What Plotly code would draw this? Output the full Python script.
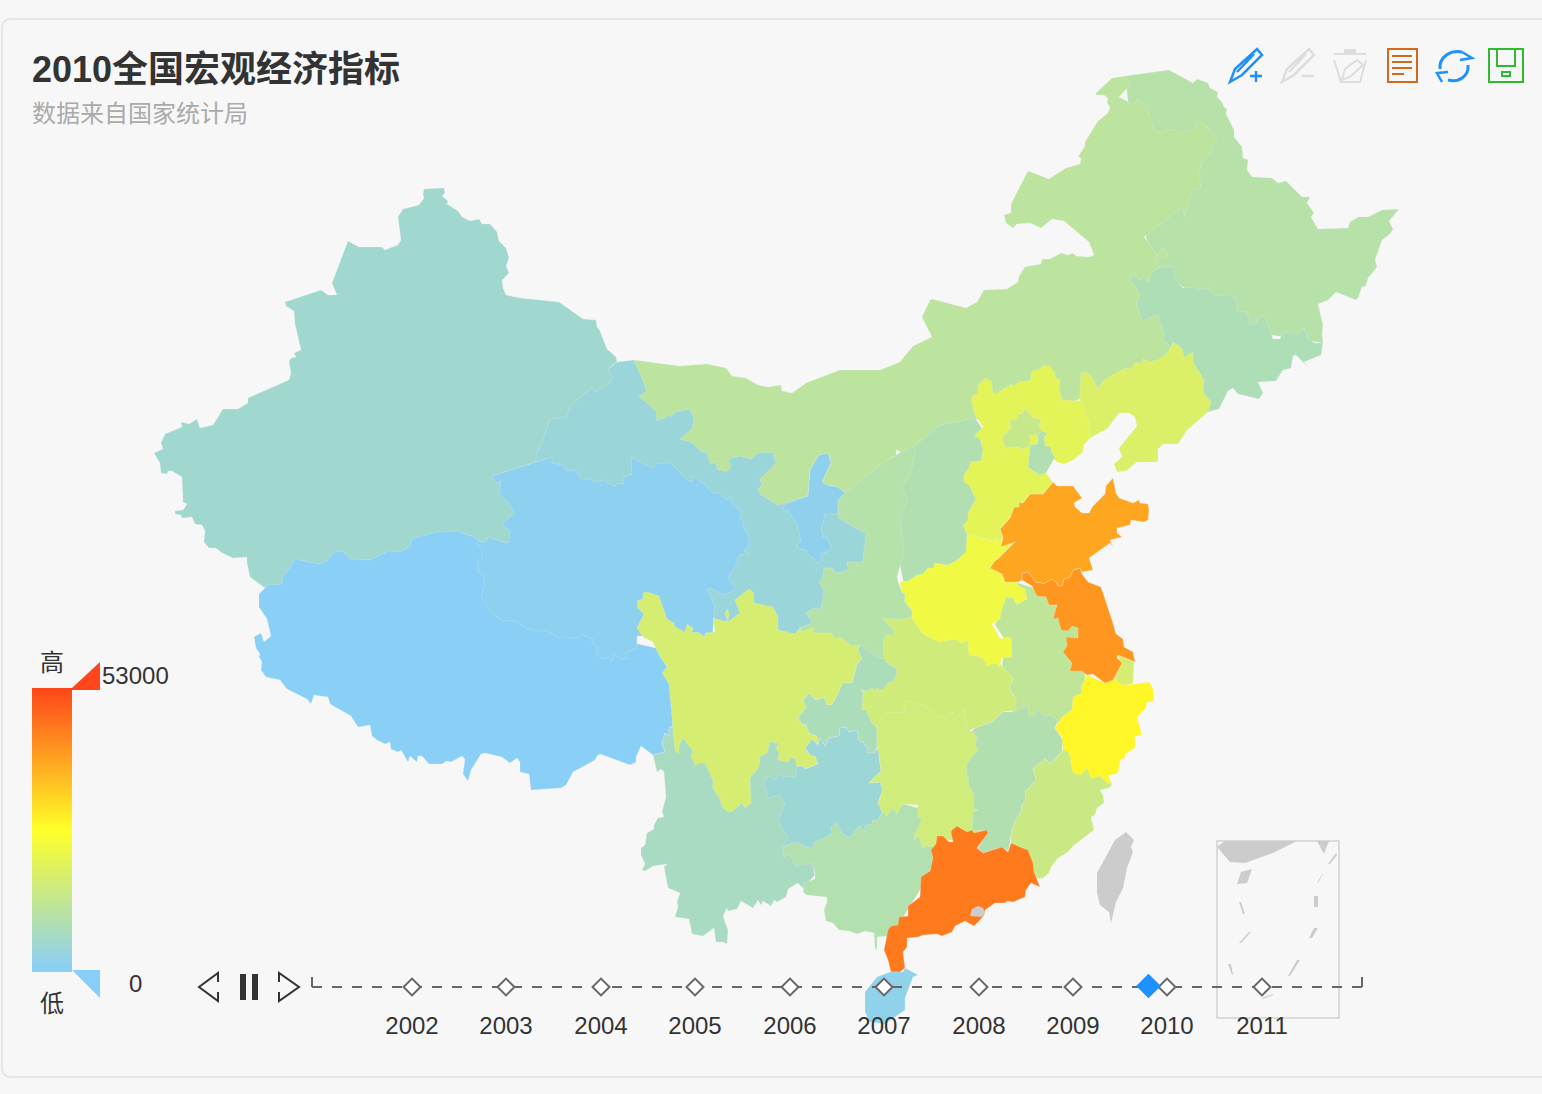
import plotly.graph_objects as go
from plotly.colors import sample_colorscale

# 2010 values per province, 亿元
PROVINCES = ["西藏", "甘肃", "青海", "新疆", "云南", "广西", "黑龙江", "吉林", "内蒙古", "辽宁",
             "山西", "陕西", "宁夏", "四川", "福建", "安徽", "湖北", "重庆", "贵州", "湖南",
             "江西", "上海", "浙江", "河南", "江苏", "山东", "河北", "北京", "天津", "广东", "海南"]
VALUES = [507, 4120, 1350, 5437, 7224, 9569, 10368, 8667, 11672, 18457,
          9200, 10123, 1689, 17185, 14737, 12359, 15967, 7925, 4602, 16037,
          9451, 17165, 27722, 23092, 41425, 39169, 20394, 14113, 9224, 45472, 2064]
VALUE_MAX = 53000
YEARS = ["2002", "2003", "2004", "2005", "2006", "2007", "2008", "2009", "2010", "2011"]
YEAR_X = [412, 506, 601, 695, 790, 884, 979, 1073, 1167, 1262]
SCALE = [[0, "rgb(135,206,250)"], [0.5, "rgb(255,255,40)"], [1, "rgb(255,69,25)"]]

# outlines, in page pixels. later provinces paint over earlier ones
OUTLINES = {
    "西藏": [(265,588),(259,594),(259,607),(267,619),(271,636),(264,642),(261,633),(254,637),(256,648),(260,654),(259,657),(262,662),(261,670),(266,677),(280,680),(287,689),(307,699),(311,704),(314,695),(328,697),(330,704),(351,716),(358,727),(370,725),(372,736),(377,740),(385,744),(390,742),(391,749),(398,752),(401,750),(408,762),(410,756),(417,762),(418,756),(422,756),(429,764),(442,764),(446,761),(451,762),(462,756),(465,759),(463,774),(468,781),(471,770),(481,754),(485,753),(502,757),(510,763),(517,758),(520,762),(520,772),(529,774),(531,790),(561,788),(566,785),(573,772),(595,760),(597,756),(600,754),(630,765),(636,762),(636,757),(641,746),(653,755),(665,752),(662,743),(665,733),(669,736),(669,728),(673,725),(680,700),(665,650),(620,640),(500,560),(490,525),(400,520),(290,540)],
    "甘肃": [(617,362),(634,360),(700,380),(776,445),(790,495),(830,500),(845,510),(870,535),(868,565),(848,575),(828,575),(826,600),(824,612),(812,630),(795,640),(750,625),(716,625),(708,600),(640,500),(540,470),(530,465),(540,425),(560,410),(580,390),(600,375)],
    "青海": [(536,462),(552,457),(552,463),(563,465),(566,471),(575,470),(581,479),(589,479),(597,482),(604,480),(614,487),(618,483),(623,484),(624,477),(632,474),(631,457),(653,468),(657,463),(663,464),(667,462),(673,465),(687,480),(693,482),(692,476),(703,483),(713,493),(720,493),(726,500),(730,498),(733,505),(742,512),(740,518),(744,523),(743,527),(749,536),(749,547),(744,550),(748,554),(740,554),(737,559),(738,564),(729,575),(729,580),(735,587),(733,591),(724,595),(710,588),(707,589),(715,606),(712,640),(690,640),(660,625),(643,636),(637,636),(637,648),(627,652),(627,659),(620,659),(614,653),(612,662),(608,657),(605,659),(597,655),(597,647),(592,643),(593,639),(583,635),(572,639),(564,636),(559,638),(548,631),(535,631),(533,629),(527,629),(517,621),(502,621),(490,611),(481,596),(484,587),(484,575),(479,573),(477,561),(482,558),(482,549),(477,543),(495,510),(490,476)],
    "新疆": [(424,189),(444,188),(445,193),(442,196),(448,201),(447,204),(458,211),(462,217),(470,221),(479,219),(482,224),(490,224),(497,232),(499,241),(506,248),(509,258),(506,266),(509,273),(502,280),(503,288),(506,295),(520,298),(559,302),(583,319),(596,320),(597,327),(600,331),(607,349),(616,357),(617,362),(609,368),(609,373),(613,377),(609,383),(595,392),(593,387),(580,397),(570,407),(567,417),(550,419),(542,443),(536,454),(536,462),(492,476),(496,483),(501,481),(499,493),(508,503),(515,513),(503,523),(504,527),(510,530),(509,542),(506,543),(488,537),(486,542),(482,542),(472,536),(463,534),(459,531),(436,532),(412,539),(410,547),(400,552),(388,551),(371,560),(350,559),(344,552),(335,551),(327,561),(319,564),(294,559),(291,566),(283,577),(282,584),(267,585),(265,588),(250,577),(247,563),(247,557),(233,558),(222,553),(216,548),(209,548),(204,542),(205,531),(202,525),(195,524),(192,517),(182,518),(181,515),(175,514),(175,511),(183,510),(187,504),(183,502),(182,477),(172,471),(168,471),(167,474),(161,473),(160,463),(154,453),(163,449),(161,443),(165,434),(182,427),(181,422),(189,424),(197,419),(200,428),(213,425),(223,409),(238,409),(248,403),(248,398),(289,380),(291,373),(289,362),(291,358),(296,357),(294,353),(301,350),(295,324),(294,311),(286,306),(285,302),(321,290),(328,295),(337,295),(332,283),(348,241),(359,247),(382,247),(385,250),(398,245),(401,240),(398,217),(403,209),(419,205),(424,198),(423,194)],
    "云南": [(673,726),(669,728),(669,736),(665,733),(662,743),(665,752),(653,755),(657,772),(661,769),(664,772),(666,797),(662,812),(664,817),(658,818),(654,825),(654,829),(647,833),(645,845),(641,848),(641,855),(645,864),(642,870),(645,871),(653,866),(667,864),(664,867),(668,888),(680,893),(677,902),(678,907),(675,917),(689,919),(692,934),(703,936),(714,928),(716,942),(723,942),(727,944),(728,930),(723,916),(727,908),(728,911),(737,909),(741,901),(753,908),(758,900),(761,905),(763,901),(771,906),(774,900),(777,902),(786,897),(788,889),(798,883),(803,888),(815,875),(800,800),(805,760),(800,735),(770,735),(700,720)],
    "广西": [(782,849),(784,857),(786,855),(790,855),(796,866),(802,865),(812,863),(815,872),(815,879),(804,883),(803,892),(807,895),(827,897),(827,902),(824,910),(826,921),(833,923),(839,930),(849,931),(857,934),(865,931),(874,933),(875,948),(877,950),(877,937),(888,936),(895,930),(920,890),(935,860),(940,840),(925,810),(890,800),(810,830)],
    "黑龙江": [(1125,76),(1169,70),(1193,83),(1197,79),(1208,83),(1210,88),(1218,92),(1217,97),(1222,102),(1224,107),(1227,109),(1226,114),(1234,130),(1234,137),(1242,147),(1243,158),(1248,160),(1247,170),(1252,177),(1272,178),(1278,183),(1286,181),(1302,197),(1310,197),(1307,203),(1314,213),(1311,217),(1318,229),(1348,228),(1350,222),(1358,217),(1368,217),(1382,210),(1399,209),(1389,221),(1393,229),(1390,234),(1382,240),(1375,260),(1377,267),(1368,278),(1366,286),(1362,287),(1358,298),(1356,300),(1336,292),(1328,300),(1318,304),(1323,325),(1322,334),(1323,343),(1240,330),(1200,300),(1150,262),(1140,200)],
    "吉林": [(1160,267),(1174,267),(1175,279),(1183,288),(1193,287),(1197,290),(1209,288),(1211,292),(1217,296),(1227,294),(1237,300),(1237,311),(1247,312),(1250,324),(1257,324),(1257,318),(1265,315),(1273,339),(1280,339),(1282,333),(1293,331),(1296,335),(1304,328),(1308,339),(1315,343),(1323,343),(1321,355),(1304,362),(1309,368),(1296,355),(1293,356),(1291,368),(1283,370),(1276,381),(1258,382),(1263,393),(1259,399),(1238,394),(1233,388),(1228,391),(1219,409),(1208,412),(1195,395),(1160,370),(1130,330),(1120,285),(1125,268),(1155,262)],
    "内蒙古": [(634,360),(680,366),(707,364),(726,368),(732,376),(746,378),(758,385),(768,387),(781,385),(782,391),(792,393),(806,383),(840,370),(880,370),(900,362),(913,346),(932,337),(922,317),(930,300),(932,299),(966,308),(977,302),(984,290),(1007,289),(1018,282),(1019,276),(1025,267),(1041,264),(1042,259),(1050,259),(1061,253),(1068,255),(1073,253),(1076,256),(1089,257),(1094,255),(1089,242),(1064,221),(1052,219),(1041,228),(1030,223),(1017,224),(1013,228),(1006,223),(1004,215),(1011,213),(1011,204),(1028,171),(1049,179),(1066,168),(1080,164),(1081,158),(1078,157),(1085,146),(1085,142),(1098,121),(1108,113),(1110,107),(1107,103),(1108,98),(1104,95),(1096,95),(1096,93),(1112,78),(1125,76),(1131,84),(1119,97),(1127,101),(1130,104),(1135,104),(1138,98),(1148,106),(1148,110),(1155,131),(1160,133),(1168,129),(1183,132),(1194,129),(1197,122),(1203,122),(1217,139),(1212,145),(1212,151),(1202,163),(1199,172),(1201,188),(1192,190),(1185,217),(1182,207),(1144,237),(1157,255),(1163,248),(1167,252),(1167,257),(1156,259),(1160,267),(1151,273),(1149,282),(1143,278),(1141,280),(1132,274),(1130,280),(1134,284),(1140,295),(1137,304),(1142,321),(1158,315),(1165,336),(1162,341),(1168,344),(1170,350),(1140,380),(1085,395),(1070,405),(1040,390),(1000,400),(985,420),(975,419),(970,421),(963,427),(957,425),(948,432),(939,429),(932,447),(922,446),(921,451),(916,452),(913,447),(905,454),(896,450),(896,456),(892,457),(880,472),(872,482),(873,488),(868,490),(866,498),(856,500),(845,493),(838,487),(827,485),(822,482),(831,463),(828,453),(819,455),(810,470),(808,496),(778,505),(760,494),(758,489),(762,485),(760,479),(776,463),(773,452),(758,453),(751,459),(740,456),(728,459),(731,466),(726,472),(717,469),(716,462),(710,464),(707,452),(702,452),(691,442),(680,439),(692,429),(694,418),(689,409),(675,412),(671,417),(668,415),(664,419),(663,418),(657,421),(656,411),(639,396),(646,392),(646,388)],
    "辽宁": [(1080,400),(1080,391),(1081,373),(1086,372),(1092,377),(1098,389),(1104,380),(1125,368),(1130,369),(1135,363),(1142,363),(1143,359),(1150,362),(1158,360),(1167,354),(1173,342),(1182,348),(1184,358),(1190,353),(1193,353),(1193,362),(1204,380),(1203,392),(1211,402),(1208,412),(1187,430),(1178,444),(1163,444),(1158,449),(1158,462),(1137,462),(1126,471),(1117,472),(1114,464),(1122,457),(1119,448),(1137,426),(1135,417),(1129,413),(1119,413),(1107,429),(1093,436),(1090,438),(1086,422),(1080,421),(1072,412)],
    "山西": [(910,450),(940,425),(975,418),(990,440),(990,500),(975,540),(965,560),(950,570),(905,590),(895,540),(895,490)],
    "陕西": [(845,493),(880,465),(912,445),(916,452),(909,477),(902,486),(903,492),(908,499),(900,517),(904,552),(897,577),(898,581),(902,592),(905,593),(905,602),(912,610),(912,618),(895,640),(885,662),(860,660),(850,650),(800,640),(800,627),(810,624),(811,620),(806,613),(813,608),(821,609),(822,603),(824,590),(819,582),(823,577),(824,568),(832,568),(837,573),(848,570),(847,562),(863,562),(864,550),(866,534),(838,518),(838,500)],
    "宁夏": [(819,455),(828,453),(831,463),(822,482),(827,485),(838,487),(845,493),(838,500),(838,514),(825,514),(823,523),(821,528),(823,537),(828,539),(831,548),(827,552),(821,553),(821,560),(818,563),(812,558),(807,553),(806,550),(799,549),(797,545),(801,541),(797,523),(788,511),(783,510),(783,505),(808,496),(810,470)],
    "四川": [(754,603),(773,607),(778,617),(778,630),(795,634),(800,628),(801,632),(813,628),(814,633),(832,633),(835,639),(840,637),(852,646),(860,645),(858,650),(862,659),(857,664),(852,683),(842,683),(841,687),(832,705),(827,705),(824,697),(816,700),(808,693),(803,701),(806,707),(798,718),(802,724),(806,725),(809,733),(817,736),(818,745),(812,739),(805,748),(811,756),(815,756),(818,764),(805,769),(802,766),(797,767),(795,758),(791,758),(788,762),(778,760),(779,753),(776,748),(779,743),(769,742),(768,752),(760,757),(759,767),(750,778),(751,803),(745,808),(742,803),(733,811),(728,812),(723,808),(719,797),(713,788),(713,780),(705,763),(698,763),(696,766),(691,757),(693,751),(683,738),(679,745),(679,754),(675,751),(669,684),(662,673),(667,667),(659,655),(653,642),(643,637),(637,628),(644,614),(638,608),(637,601),(643,599),(643,593),(647,592),(659,596),(667,619),(674,623),(675,627),(685,632),(687,624),(693,628),(692,633),(698,632),(705,637),(705,633),(715,632),(713,618),(723,621),(728,621),(725,614),(727,609),(729,613),(728,622),(740,613),(735,600),(749,589),(753,592)],
    "福建": [(1011,833),(1016,819),(1022,811),(1021,806),(1026,800),(1025,791),(1036,781),(1033,768),(1045,759),(1050,763),(1062,752),(1066,740),(1100,760),(1112,785),(1109,788),(1100,790),(1103,795),(1104,803),(1097,808),(1095,815),(1091,817),(1094,830),(1082,839),(1073,846),(1068,852),(1058,858),(1051,867),(1049,873),(1043,878),(1035,879),(1028,860),(1011,843)],
    "安徽": [(1015,582),(1040,590),(1060,610),(1085,625),(1085,680),(1090,700),(1068,725),(1045,720),(1015,716),(1012,712),(1016,700),(1009,688),(1013,678),(1002,667),(1005,640),(995,625),(1005,595)],
    "湖北": [(882,618),(893,619),(903,619),(912,617),(920,610),(985,630),(1002,667),(1013,678),(1009,688),(1016,700),(1016,710),(1003,712),(992,722),(975,728),(960,735),(885,735),(875,735),(860,712),(860,695),(870,680),(877,659),(884,658),(883,641),(886,635),(894,635),(894,630),(887,623)],
    "重庆": [(860,645),(868,650),(877,658),(885,659),(887,663),(896,668),(897,673),(893,683),(890,681),(882,690),(877,688),(875,690),(872,688),(867,691),(862,690),(863,695),(862,710),(866,710),(872,723),(877,728),(877,748),(874,753),(867,753),(867,747),(863,742),(859,741),(857,730),(849,732),(847,728),(840,727),(839,736),(829,738),(825,746),(820,738),(818,745),(817,736),(809,733),(806,725),(802,724),(798,718),(806,707),(803,701),(808,693),(816,700),(824,697),(827,705),(832,705),(841,687),(842,683),(852,683),(857,664),(862,659),(858,650)],
    "贵州": [(768,776),(774,780),(780,774),(785,777),(796,776),(797,767),(802,766),(805,769),(818,764),(815,756),(811,756),(805,748),(812,739),(818,745),(820,738),(825,746),(829,738),(839,736),(840,727),(847,728),(849,732),(857,730),(859,741),(863,742),(867,747),(867,753),(874,753),(878,748),(881,771),(869,783),(880,782),(882,787),(882,792),(878,803),(882,807),(882,812),(878,820),(873,820),(872,824),(865,825),(865,832),(860,826),(857,827),(854,834),(848,837),(842,833),(837,823),(831,827),(832,834),(815,842),(812,849),(795,842),(782,847),(788,837),(778,821),(785,803),(779,795),(768,798),(765,788),(764,784)],
    "湖南": [(878,725),(883,714),(888,712),(905,713),(903,703),(909,701),(928,707),(938,717),(947,717),(953,712),(953,721),(964,710),(966,720),(967,730),(972,731),(985,735),(990,780),(985,835),(960,840),(945,840),(933,847),(927,846),(923,849),(919,836),(913,840),(922,818),(918,817),(918,805),(903,804),(897,814),(892,808),(887,816),(882,812),(880,807),(878,803),(882,792),(882,787),(880,782),(869,783),(881,771),(878,748),(877,748),(877,728)],
    "江西": [(972,731),(977,738),(975,745),(978,750),(967,763),(966,775),(969,777),(968,783),(974,795),(973,808),(978,810),(973,812),(972,830),(988,831),(978,848),(983,853),(1002,847),(1008,851),(1010,843),(1011,833),(1016,819),(1022,811),(1021,806),(1026,800),(1025,791),(1036,781),(1033,768),(1045,759),(1050,763),(1062,752),(1063,740),(1055,728),(1058,721),(1052,716),(1043,715),(1037,708),(1035,715),(1029,716),(1028,705),(1015,712),(1003,712),(992,722),(975,728)],
    "上海": [(1118,655),(1134,662),(1133,683),(1122,687),(1114,678),(1120,665)],
    "浙江": [(1087,675),(1105,683),(1113,678),(1123,685),(1135,684),(1149,682),(1153,688),(1154,701),(1147,702),(1146,708),(1137,717),(1142,735),(1135,736),(1135,748),(1125,754),(1125,758),(1120,760),(1118,773),(1108,776),(1112,785),(1107,783),(1100,776),(1091,778),(1087,768),(1081,775),(1073,773),(1069,752),(1063,750),(1062,737),(1055,728),(1062,717),(1072,710),(1073,697),(1082,693),(1081,688)],
    "河南": [(967,534),(966,552),(956,561),(948,565),(934,563),(934,568),(928,568),(923,574),(917,575),(908,581),(900,582),(902,592),(905,593),(905,602),(912,610),(912,618),(923,634),(939,642),(956,639),(962,643),(968,640),(969,655),(977,656),(983,658),(987,666),(995,663),(999,667),(1002,658),(1012,657),(1011,638),(1007,637),(1000,639),(997,633),(992,624),(1000,619),(1001,612),(1006,597),(1013,598),(1017,605),(1027,599),(1025,589),(1018,586),(1018,582),(1005,582),(1002,574),(990,568),(995,561),(998,559),(1015,542),(1001,547),(1003,538),(995,538),(992,541)],
    "江苏": [(1022,573),(1028,572),(1037,583),(1040,582),(1043,584),(1052,579),(1057,583),(1058,586),(1062,586),(1064,579),(1070,577),(1073,570),(1080,568),(1082,574),(1088,582),(1101,587),(1113,623),(1116,634),(1123,639),(1124,647),(1133,652),(1135,662),(1118,655),(1117,658),(1122,663),(1113,680),(1105,683),(1093,674),(1087,675),(1082,671),(1070,671),(1072,663),(1063,652),(1067,646),(1066,637),(1078,638),(1078,628),(1072,626),(1068,631),(1061,630),(1058,618),(1053,619),(1057,605),(1049,605),(1046,597),(1037,596),(1032,586),(1022,580)],
    "山东": [(1053,482),(1057,486),(1073,486),(1082,498),(1074,503),(1075,507),(1082,513),(1089,513),(1093,506),(1105,494),(1106,486),(1113,478),(1116,493),(1119,498),(1133,503),(1139,500),(1140,503),(1148,504),(1149,510),(1148,520),(1144,522),(1131,520),(1130,525),(1117,528),(1117,533),(1122,537),(1110,540),(1113,547),(1110,543),(1089,558),(1093,570),(1082,572),(1080,568),(1073,570),(1070,577),(1064,579),(1062,586),(1058,586),(1057,583),(1052,579),(1043,584),(1040,582),(1037,583),(1028,572),(1022,573),(1022,580),(1018,582),(1005,582),(1002,574),(990,568),(995,561),(998,559),(1015,542),(1001,547),(1003,538),(1000,529),(1010,518),(1014,507),(1019,507),(1019,502),(1023,503),(1030,494),(1043,494)],
    "河北": [(972,397),(972,403),(975,415),(983,427),(974,436),(980,439),(983,450),(981,461),(971,462),(969,468),(964,475),(964,482),(969,485),(976,499),(968,513),(968,520),(963,526),(967,534),(992,541),(995,538),(1000,541),(1003,538),(1000,529),(1010,518),(1014,507),(1019,507),(1019,502),(1023,503),(1030,494),(1043,494),(1053,482),(1046,473),(1053,458),(1057,462),(1064,464),(1073,460),(1083,452),(1084,445),(1090,438),(1090,425),(1082,401),(1062,400),(1059,388),(1060,380),(1055,378),(1055,373),(1050,366),(1043,366),(1038,370),(1032,371),(1030,381),(1019,382),(1013,387),(1012,384),(997,393),(993,393),(991,381),(985,378),(978,385),(978,393)],
    "北京": [(1025,408),(1033,418),(1041,419),(1039,426),(1042,431),(1038,435),(1030,435),(1030,446),(1022,449),(1017,447),(1005,448),(1002,437),(1011,428),(1009,420),(1017,419),(1018,414),(1022,414)],
    "天津": [(1042,431),(1048,434),(1044,436),(1045,445),(1052,448),(1051,452),(1055,457),(1046,473),(1039,475),(1028,467),(1030,445),(1038,444),(1038,435)],
    "广东": [(952,830),(957,826),(967,832),(972,830),(974,833),(987,830),(988,833),(977,848),(983,853),(1002,847),(1008,852),(1011,843),(1020,847),(1028,850),(1033,863),(1034,872),(1040,887),(1031,883),(1026,890),(1025,897),(1013,902),(1007,901),(1005,903),(995,903),(985,910),(984,915),(982,918),(974,926),(965,921),(955,926),(952,932),(942,936),(937,934),(923,935),(918,937),(907,938),(907,947),(903,952),(905,968),(900,972),(891,972),(888,960),(884,950),(888,930),(891,926),(898,925),(899,917),(908,916),(908,906),(920,897),(921,877),(930,871),(933,858),(931,850),(936,844),(937,836),(943,836),(949,842),(953,842),(951,832)],
    "海南": [(905,968),(918,975),(913,977),(905,998),(905,1010),(885,1024),(870,1022),(865,1012),(865,992),(877,977),(890,972),(903,972)],
}

# no data: drawn grey
GREY_PARTS = [
    [(1126,832),(1134,840),(1131,847),(1133,852),(1127,868),(1123,888),(1116,902),(1111,923),(1109,912),(1100,905),(1097,893),(1097,873),(1115,840)],
    [(970,916),(972,909),(978,906),(983,908),(985,913),(982,917)],
    [(1217,847),(1225,841),(1297,841),(1273,853),(1245,863),(1230,862)],
    [(1317,841),(1329,841),(1324,854)],
    [(1241,872),(1252,869),(1247,883),(1237,884)],
    [(1239,902),(1241,902),(1245,914),(1243,914)],
    [(1249,932),(1251,932),(1241,943),(1239,943)],
    [(1228,964),(1231,964),(1233,975),(1232,975)],
    [(1262,998),(1273,994),(1273,995),(1263,999)],
    [(1300,960),(1290,976),(1288,976),(1297,960)],
    [(1314,928),(1318,928),(1312,938),(1309,938)],
    [(1314,896),(1318,896),(1318,907),(1314,907)],
    [(1323,873),(1323,874),(1318,883),(1317,883)],
    [(1336,853),(1337,855),(1330,864),(1328,864)],
]

FONT = "Liberation Sans, Noto Sans CJK SC, sans-serif"
BG = "#f7f7f7"


def polygon(points, color, name=None, line="rgba(238,238,238,0.5)"):
    return go.Scatter(
        x=[p[0] for p in points] + [points[0][0]],
        y=[p[1] for p in points] + [points[0][1]],
        mode="lines", fill="toself", fillcolor=color, name=name,
        line=dict(color=line, width=0.5), showlegend=False, hoverinfo="skip",
    )


def stroke(path, color, width=2, fill=None):
    return dict(type="path", path=path, xref="x", yref="y", layer="above",
                line=dict(color=color, width=width), fillcolor=fill)


def label(text, x, y, size=24, color="#333", anchor="center", bold=False):
    body = f"<b>{text}</b>" if bold else text
    return dict(text=body, x=x, y=y, xref="x", yref="y", showarrow=False, xanchor=anchor,
                yanchor="middle", font=dict(family=FONT, size=size, color=color))


fig = go.Figure()

for part in GREY_PARTS:
    fig.add_trace(polygon(part, "#cccccc", line="rgba(204,204,204,0)"))

for name, value in zip(PROVINCES, VALUES):
    color = sample_colorscale(SCALE, value / VALUE_MAX)[0]
    fig.add_trace(polygon(OUTLINES[name], color, name))

# Hong Kong sits on top of Guangdong
fig.add_trace(polygon(GREY_PARTS[1], "#cccccc", line="rgba(204,204,204,0)"))

# colour legend
fig.add_trace(go.Scatter(
    x=[None], y=[None], mode="markers", showlegend=False, hoverinfo="skip",
    marker=dict(color=[0], cmin=0, cmax=VALUE_MAX, colorscale=SCALE, showscale=True,
                colorbar=dict(thickness=40, thicknessmode="pixels", len=284, lenmode="pixels",
                              x=32 / 1542, xanchor="left", xpad=0, y=1 - 830 / 1094, yanchor="middle", ypad=0,
                              showticklabels=False, ticks="", outlinewidth=0, borderwidth=0)),
))

# timeline
fig.add_trace(go.Scatter(x=[312, 1362], y=[987, 987], mode="lines", showlegend=False, hoverinfo="skip",
                         line=dict(color="#666", width=2, dash="10px,10px")))
fig.add_trace(go.Scatter(x=YEAR_X, y=[987] * len(YEARS), mode="markers", showlegend=False, hoverinfo="skip",
                         marker=dict(symbol="diamond", size=13, color="#fff", line=dict(color="#666", width=2))))
fig.add_trace(go.Scatter(x=[1148.5], y=[986], mode="markers", showlegend=False, hoverinfo="skip",
                         marker=dict(symbol="diamond", size=19, color="#1e90ff")))
fig.add_trace(go.Scatter(x=YEAR_X, y=[1028] * len(YEARS), mode="text", text=YEARS, showlegend=False, hoverinfo="skip",
                         textposition="middle center", textfont=dict(family=FONT, size=24, color="#333")))

PEN = "#1e90ff"
OFF = "#dddddd"
ORANGE = "#d2691e"
GREEN = "#2fba2f"
shapes = [
    # panel
    dict(type="path", path="M 1560 19 L 12 19 Q 2 19 2 29 L 2 1067 Q 2 1077 12 1077 L 1560 1077", xref="x", yref="y",
         layer="below", line=dict(color="#e6e6e6", width=2)),
    # south sea inset
    dict(type="rect", x0=1217, x1=1339, y0=841, y1=1018, xref="x", yref="y", layer="below",
         line=dict(color="#d2d2d2", width=1.5)),
    # legend handles
    stroke("M 72 688 L 100 662 L 100 690 L 72 690 Z", "rgba(0,0,0,0)", 0, "rgb(255,69,25)"),
    stroke("M 72 970 L 100 970 L 100 998 Z", "rgba(0,0,0,0)", 0, "rgb(135,206,250)"),
    # play controls
    stroke("M 218 982 L 218 973 L 199 987 L 218 1001 L 218 992", "#333", 2),
    stroke("M 240 974 L 246 974 L 246 1000 L 240 1000 Z", "#333", 0, "#333"),
    stroke("M 252 974 L 258 974 L 258 1000 L 252 1000 Z", "#333", 0, "#333"),
    stroke("M 279 982 L 279 973 L 299 987 L 279 1001 L 279 992", "#333", 2),
    stroke("M 312 977 L 312 987", "#666", 2),
    stroke("M 1362 977 L 1362 987", "#666", 2),
    # toolbox
    stroke("M 1230 82 L 1235 69 L 1257 49 L 1262 55 L 1242 75 Z M 1237 72 L 1254 54", PEN, 2.5),
    stroke("M 1250 76 L 1262 76 M 1256 71 L 1256 82", PEN, 2.5),
    stroke("M 1282 82 L 1287 69 L 1309 49 L 1314 55 L 1294 75 Z M 1289 72 L 1306 54", OFF, 2.5),
    stroke("M 1302 76 L 1314 76", OFF, 2.5),
    stroke("M 1334 54 L 1366 54", OFF),
    stroke("M 1344 49 L 1356 49 L 1356 53 L 1344 53 Z", OFF, 0, OFF),
    stroke("M 1334 60 L 1341 82 L 1360 82 L 1366 60", OFF),
    stroke("M 1342 80 L 1345 69 L 1357 60 L 1363 65 L 1350 77 Z", OFF),
    stroke("M 1388 49 L 1417 49 L 1417 82 L 1388 82 Z", ORANGE),
    stroke("M 1392 56 L 1412 56 M 1392 62 L 1412 62 M 1392 68 L 1412 68 M 1392 74 L 1404 74", ORANGE),
    stroke("M 1440 69 C 1439 57 1450 50 1462 52", PEN, 3),
    stroke("M 1462 52 L 1472 58 L 1460 60", PEN, 2.5),
    stroke("M 1468 65 C 1469 76 1459 83 1448 80", PEN, 3),
    stroke("M 1448 72 L 1437 73 L 1442 82", PEN, 2.5),
    stroke("M 1489 49 L 1523 49 L 1523 82 L 1489 82 Z", GREEN),
    stroke("M 1497 49 L 1497 66 L 1515 66 L 1515 49", GREEN),
    stroke("M 1502 72 L 1510 72 L 1510 76 L 1502 76 Z", GREEN),
]

annotations = [
    label("2010全国宏观经济指标", 30, 69, size=36, anchor="left", bold=True),
    label("数据来自国家统计局", 30, 113, color="#aaa", anchor="left"),
    label("高", 52, 662),
    label("低", 52, 1003),
    label("53000", 100, 675, anchor="left"),
    label("0", 135, 983),
]

fig.update_layout(
    width=1542, height=1094, margin=dict(l=0, r=0, t=0, b=0), autosize=False,
    paper_bgcolor=BG, plot_bgcolor=BG, hovermode=False, showlegend=False,
    xaxis=dict(range=[0, 1542], visible=False, fixedrange=True),
    yaxis=dict(range=[1094, 0], visible=False, fixedrange=True),
    shapes=shapes, annotations=annotations,
)

fig.write_html("out.html", config={"displayModeBar": False},
               post_script="document.body.style.margin='0';document.body.style.overflow='hidden';document.body.style.background='#f7f7f7';")
